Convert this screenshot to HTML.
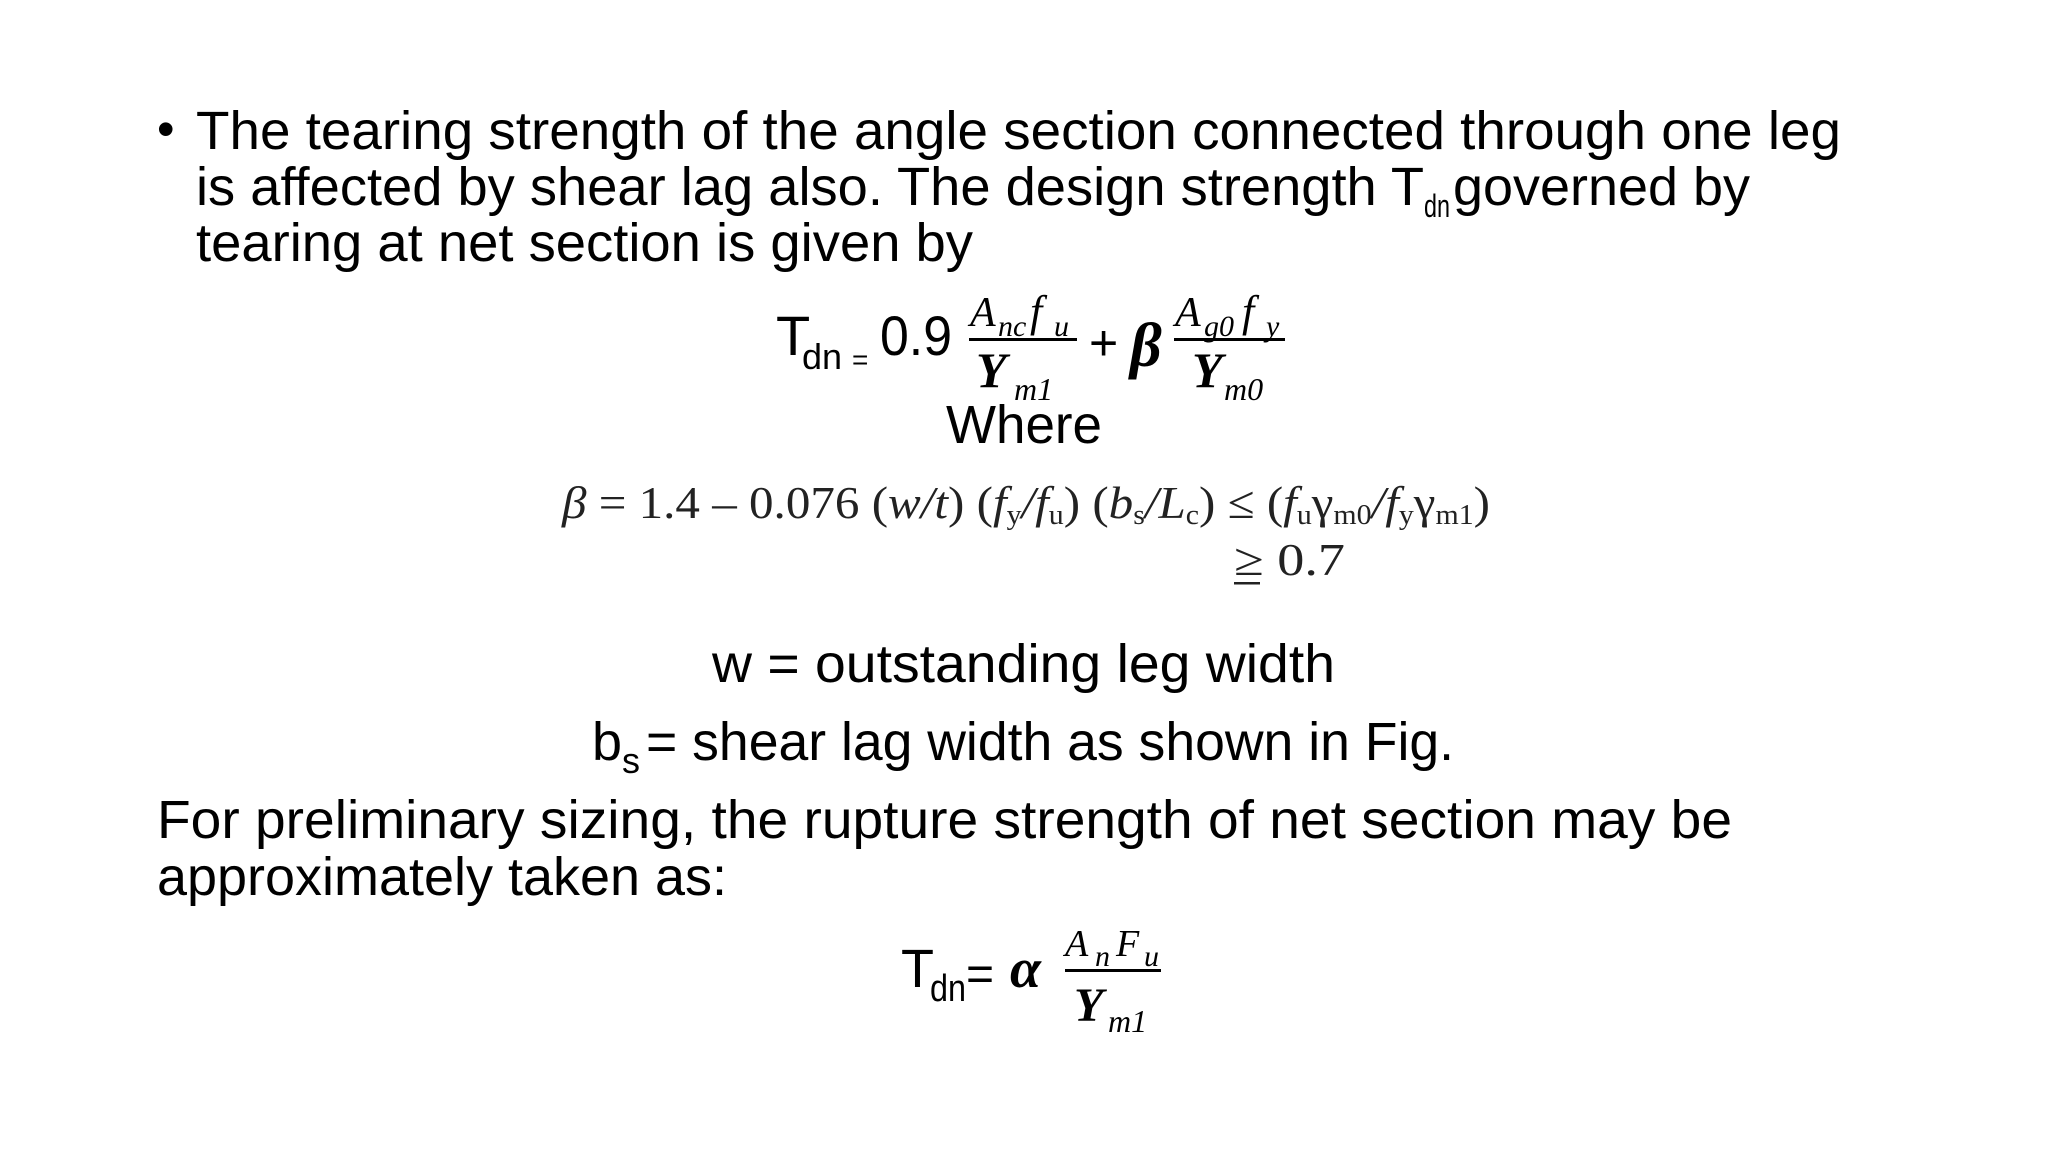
<!DOCTYPE html>
<html><head><meta charset="utf-8"><style>
html,body{margin:0;padding:0;background:#fff;}
svg{display:block;}
.s{font-family:"Liberation Sans",sans-serif;fill:#000;}
.m{font-family:"Liberation Serif",serif;font-style:italic;fill:#000;}
.t{font-family:"Liberation Serif",serif;fill:#222;}
</style></head><body>
<svg width="2048" height="1152" viewBox="0 0 2048 1152" xmlns="http://www.w3.org/2000/svg">
<rect width="2048" height="1152" fill="#fff"/>
<!-- bullet paragraph -->
<text class="s" x="157" y="146" font-size="50">•</text>
<text class="s" x="196" y="149" font-size="54" textLength="1645" lengthAdjust="spacingAndGlyphs">The tearing strength of the angle section connected through one leg</text>
<text class="s" x="196" y="205" font-size="54" textLength="1228" lengthAdjust="spacingAndGlyphs">is affected by shear lag also. The design strength T</text>
<text class="s" x="1424" y="217" font-size="32" textLength="26" lengthAdjust="spacingAndGlyphs">dn</text>
<text class="s" x="1453" y="205" font-size="54" textLength="297" lengthAdjust="spacingAndGlyphs">governed by</text>
<text class="s" x="196" y="261" font-size="54" textLength="777" lengthAdjust="spacingAndGlyphs">tearing at net section is given by</text>

<!-- formula 1 -->
<text class="s" x="776" y="355" font-size="56">T</text>
<text class="s" x="802" y="369" font-size="36">dn</text>
<text class="s" x="852" y="369" font-size="28">=</text>
<text class="s" x="880" y="355" font-size="56" textLength="72" lengthAdjust="spacingAndGlyphs">0.9</text>
<text class="m" x="970" y="326" font-size="42">A</text>
<text class="m" x="998" y="336" font-size="30">nc</text>
<text class="m" x="1030" y="326" font-size="44">f</text>
<text class="m" x="1054" y="336" font-size="30">u</text>
<rect x="969" y="338" width="108" height="3" fill="#000"/>
<text class="m" x="976" y="387" font-size="50" font-weight="bold">Υ</text>
<text class="m" x="1014" y="400" font-size="32">m1</text>
<text class="s" x="1089" y="360" font-size="50">+</text>
<text class="m" x="1130" y="366" font-size="62" font-weight="bold">β</text>
<text class="m" x="1175" y="326" font-size="42">A</text>
<text class="m" x="1204" y="336" font-size="30">g0</text>
<text class="m" x="1242" y="326" font-size="44">f</text>
<text class="m" x="1266" y="336" font-size="30">y</text>
<rect x="1174" y="338" width="111" height="3" fill="#000"/>
<text class="m" x="1192" y="387" font-size="50" font-weight="bold">Υ</text>
<text class="m" x="1224" y="400" font-size="32">m0</text>
<text class="s" x="946" y="443" font-size="54" textLength="156" lengthAdjust="spacingAndGlyphs">Where</text>

<!-- beta formula -->
<text class="t" x="562" y="518" font-size="46" textLength="928" lengthAdjust="spacingAndGlyphs"><tspan font-style="italic">β</tspan> = 1.4 – 0.076 (<tspan font-style="italic">w/t</tspan>) (<tspan font-style="italic">f</tspan><tspan font-size="28" dy="6">y</tspan><tspan dy="-6" font-style="italic">/f</tspan><tspan font-size="28" dy="6">u</tspan><tspan dy="-6">) (</tspan><tspan font-style="italic">b</tspan><tspan font-size="28" dy="6">s</tspan><tspan dy="-6" font-style="italic">/L</tspan><tspan font-size="28" dy="6">c</tspan><tspan dy="-6">) ≤ (</tspan><tspan font-style="italic">f</tspan><tspan font-size="28" dy="6">u</tspan><tspan dy="-6">γ</tspan><tspan font-size="28" dy="6">m0</tspan><tspan dy="-6" font-style="italic">/f</tspan><tspan font-size="28" dy="6">y</tspan><tspan dy="-6">γ</tspan><tspan font-size="28" dy="6">m1</tspan><tspan dy="-6">)</tspan></text>
<text class="t" x="1234" y="575" font-size="46" textLength="111" lengthAdjust="spacingAndGlyphs">≥ 0.7</text>
<rect x="1234" y="582" width="26" height="2.5" fill="#222"/>

<!-- definitions -->
<text class="s" x="712" y="682" font-size="54" textLength="623" lengthAdjust="spacingAndGlyphs">w = outstanding leg width</text>
<text class="s" x="592" y="760" font-size="54">b</text>
<text class="s" x="622" y="773" font-size="36">s</text>
<text class="s" x="646" y="760" font-size="54" textLength="808" lengthAdjust="spacingAndGlyphs">= shear lag width as shown in Fig.</text>
<text class="s" x="157" y="838" font-size="54" textLength="1575" lengthAdjust="spacingAndGlyphs">For preliminary sizing, the rupture strength of net section may be</text>
<text class="s" x="157" y="895" font-size="54" textLength="570" lengthAdjust="spacingAndGlyphs">approximately taken as:</text>

<!-- formula 3 -->
<text class="s" x="901" y="987" font-size="54">T</text>
<text class="s" x="930" y="1001" font-size="38" textLength="36" lengthAdjust="spacingAndGlyphs">dn</text>
<text class="s" x="966" y="990" font-size="48">=</text>
<text class="m" x="1010" y="987" font-size="56" font-weight="bold">α</text>
<text class="m" x="1065" y="956" font-size="38">A</text>
<text class="m" x="1095" y="966" font-size="30">n</text>
<text class="m" x="1116" y="956" font-size="38">F</text>
<text class="m" x="1144" y="966" font-size="30">u</text>
<rect x="1065" y="969" width="96" height="3" fill="#000"/>
<text class="m" x="1074" y="1021" font-size="48" font-weight="bold">Υ</text>
<text class="m" x="1108" y="1032" font-size="32">m1</text>
</svg>
</body></html>
